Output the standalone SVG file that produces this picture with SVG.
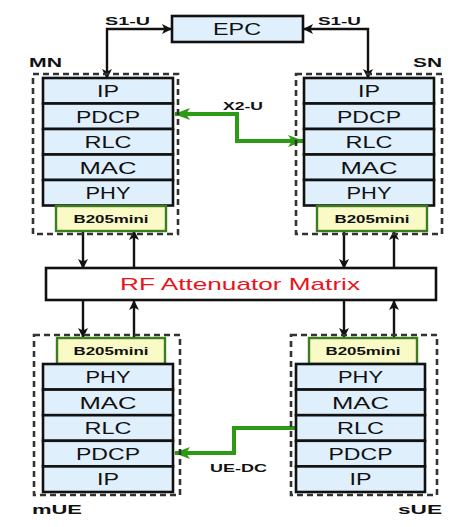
<svg xmlns="http://www.w3.org/2000/svg" width="474" height="527" viewBox="0 0 474 527">
<style>
.bg{fill:#ffffff}
.layer{fill:#dff0fc;stroke:#111;stroke-width:2.6}
.usrp{fill:#fafac6;stroke:#3b7d1f;stroke-width:2.4}
.dash{fill:none;stroke:#333;stroke-width:2.6;stroke-dasharray:6 4}
.lt{font-family:"Liberation Sans",Arial,sans-serif;font-size:17px;fill:#111;text-anchor:middle}
.ut{font-family:"Liberation Sans",Arial,sans-serif;font-size:11px;font-weight:bold;fill:#111;text-anchor:middle}
.lbl{font-family:"Liberation Sans",Arial,sans-serif;font-size:11px;font-weight:bold;fill:#111}
.nlbl{font-family:"Liberation Sans",Arial,sans-serif;font-size:13px;font-weight:bold;fill:#111}
.blk{fill:none;stroke:#111;stroke-width:2.4}
.grn{fill:none;stroke:#2c9a14;stroke-width:4}
</style>
<defs>
<marker id="ah" viewBox="0 0 10 10" refX="9" refY="5" markerWidth="10" markerHeight="10" markerUnits="userSpaceOnUse" orient="auto-start-reverse">
<path d="M0,0 L10,5 L0,10 L2.5,5 z" fill="#111"/>
</marker>
<marker id="gh" viewBox="0 0 16 12" refX="15" refY="6" markerWidth="16" markerHeight="12" markerUnits="userSpaceOnUse" orient="auto-start-reverse">
<path d="M0,0 L16,6 L0,12 L4,6 z" fill="#2c9a14"/>
</marker>
</defs>
<rect class="bg" x="0" y="0" width="474" height="527"/>

<g id="connectors">
<polyline class="blk" points="107,78 107,29 171,29" marker-start="url(#ah)" marker-end="url(#ah)"/>
<polyline class="blk" points="304,29 368,29 368,78" marker-start="url(#ah)" marker-end="url(#ah)"/>
<line class="blk" x1="83" y1="232" x2="83" y2="268" marker-end="url(#ah)"/>
<line class="blk" x1="134" y1="268" x2="134" y2="231" marker-end="url(#ah)"/>
<line class="blk" x1="344" y1="232" x2="344" y2="268" marker-end="url(#ah)"/>
<line class="blk" x1="394" y1="268" x2="394" y2="231" marker-end="url(#ah)"/>
<line class="blk" x1="83" y1="301" x2="83" y2="337" marker-end="url(#ah)"/>
<line class="blk" x1="134" y1="337" x2="134" y2="301" marker-end="url(#ah)"/>
<line class="blk" x1="344" y1="301" x2="344" y2="337" marker-end="url(#ah)"/>
<line class="blk" x1="394" y1="337" x2="394" y2="301" marker-end="url(#ah)"/>
<polyline class="grn" points="175,114 237,114 237,141 303,141" marker-start="url(#gh)" marker-end="url(#gh)"/>
<polyline class="grn" points="296,428 234,428 234,453 175,453" marker-end="url(#gh)"/>
<text class="lbl" x="105" y="25" textLength="45" lengthAdjust="spacingAndGlyphs">S1-U</text>
<text class="lbl" x="318" y="25" textLength="43" lengthAdjust="spacingAndGlyphs">S1-U</text>
<text class="lbl" x="223" y="110" textLength="40" lengthAdjust="spacingAndGlyphs">X2-U</text>
<text class="lbl" x="210" y="472" textLength="57" lengthAdjust="spacingAndGlyphs">UE-DC</text>
</g>

<g id="epc">
<rect class="layer" x="172" y="16" width="131" height="26"/>
<text class="lt" x="237" y="35" textLength="48" lengthAdjust="spacingAndGlyphs">EPC</text>
</g>

<g id="rf">
<rect x="46" y="268" width="390" height="32" fill="#fff" stroke="#111" stroke-width="2.6"/>
<text class="lt" x="240" y="290" fill="#e8141e" style="fill:#e8141e" textLength="240" lengthAdjust="spacingAndGlyphs">RF Attenuator Matrix</text>
</g>

<g id="mn">
<rect class="dash" x="33" y="74" width="145" height="160"/>
<text class="nlbl" x="29" y="67" textLength="33" lengthAdjust="spacingAndGlyphs">MN</text>
<rect class="layer" x="43" y="78" width="130" height="25.5"/>
<rect class="layer" x="43" y="103.5" width="130" height="25.5"/>
<rect class="layer" x="43" y="129" width="130" height="25.5"/>
<rect class="layer" x="43" y="154.5" width="130" height="25.5"/>
<rect class="layer" x="43" y="180" width="130" height="25.5"/>
<text class="lt" x="108" y="97" textLength="22" lengthAdjust="spacingAndGlyphs">IP</text>
<text class="lt" x="108" y="122.5" textLength="64" lengthAdjust="spacingAndGlyphs">PDCP</text>
<text class="lt" x="108" y="148" textLength="47" lengthAdjust="spacingAndGlyphs">RLC</text>
<text class="lt" x="108" y="173.5" textLength="57" lengthAdjust="spacingAndGlyphs">MAC</text>
<text class="lt" x="108" y="199" textLength="45" lengthAdjust="spacingAndGlyphs">PHY</text>
<rect class="usrp" x="56" y="206" width="110" height="25"/>
<text class="ut" x="111" y="222.5" textLength="75" lengthAdjust="spacingAndGlyphs">B205mini</text>
</g>

<g id="sn">
<rect class="dash" x="296" y="74" width="146" height="160"/>
<text class="nlbl" x="413" y="67" textLength="29" lengthAdjust="spacingAndGlyphs">SN</text>
<rect class="layer" x="304" y="78" width="130" height="25.5"/>
<rect class="layer" x="304" y="103.5" width="130" height="25.5"/>
<rect class="layer" x="304" y="129" width="130" height="25.5"/>
<rect class="layer" x="304" y="154.5" width="130" height="25.5"/>
<rect class="layer" x="304" y="180" width="130" height="25.5"/>
<text class="lt" x="369" y="97" textLength="22" lengthAdjust="spacingAndGlyphs">IP</text>
<text class="lt" x="369" y="122.5" textLength="64" lengthAdjust="spacingAndGlyphs">PDCP</text>
<text class="lt" x="369" y="148" textLength="47" lengthAdjust="spacingAndGlyphs">RLC</text>
<text class="lt" x="369" y="173.5" textLength="57" lengthAdjust="spacingAndGlyphs">MAC</text>
<text class="lt" x="369" y="199" textLength="45" lengthAdjust="spacingAndGlyphs">PHY</text>
<rect class="usrp" x="317" y="206" width="110" height="25"/>
<text class="ut" x="372" y="222.5" textLength="75" lengthAdjust="spacingAndGlyphs">B205mini</text>
</g>

<g id="mue">
<rect class="dash" x="34" y="335" width="146" height="160"/>
<text class="nlbl" x="32" y="514" textLength="50" lengthAdjust="spacingAndGlyphs">mUE</text>
<rect class="usrp" x="57" y="338" width="108" height="26"/>
<text class="ut" x="111" y="355" textLength="75" lengthAdjust="spacingAndGlyphs">B205mini</text>
<rect class="layer" x="43" y="364" width="130" height="25.6"/>
<rect class="layer" x="43" y="389.6" width="130" height="25.6"/>
<rect class="layer" x="43" y="415.2" width="130" height="25.6"/>
<rect class="layer" x="43" y="440.8" width="130" height="25.6"/>
<rect class="layer" x="43" y="466.4" width="130" height="25.6"/>
<text class="lt" x="108" y="383" textLength="45" lengthAdjust="spacingAndGlyphs">PHY</text>
<text class="lt" x="108" y="408.6" textLength="57" lengthAdjust="spacingAndGlyphs">MAC</text>
<text class="lt" x="108" y="434.2" textLength="47" lengthAdjust="spacingAndGlyphs">RLC</text>
<text class="lt" x="108" y="459.8" textLength="64" lengthAdjust="spacingAndGlyphs">PDCP</text>
<text class="lt" x="108" y="485.4" textLength="22" lengthAdjust="spacingAndGlyphs">IP</text>
</g>

<g id="sue">
<rect class="dash" x="291" y="335" width="146" height="160"/>
<text class="nlbl" x="398" y="514" textLength="44" lengthAdjust="spacingAndGlyphs">sUE</text>
<rect class="usrp" x="309" y="338" width="108" height="26"/>
<text class="ut" x="363" y="355" textLength="75" lengthAdjust="spacingAndGlyphs">B205mini</text>
<rect class="layer" x="296" y="364" width="129" height="25.6"/>
<rect class="layer" x="296" y="389.6" width="129" height="25.6"/>
<rect class="layer" x="296" y="415.2" width="129" height="25.6"/>
<rect class="layer" x="296" y="440.8" width="129" height="25.6"/>
<rect class="layer" x="296" y="466.4" width="129" height="25.6"/>
<text class="lt" x="360.5" y="383" textLength="45" lengthAdjust="spacingAndGlyphs">PHY</text>
<text class="lt" x="360.5" y="408.6" textLength="57" lengthAdjust="spacingAndGlyphs">MAC</text>
<text class="lt" x="360.5" y="434.2" textLength="47" lengthAdjust="spacingAndGlyphs">RLC</text>
<text class="lt" x="360.5" y="459.8" textLength="64" lengthAdjust="spacingAndGlyphs">PDCP</text>
<text class="lt" x="360.5" y="485.4" textLength="22" lengthAdjust="spacingAndGlyphs">IP</text>
</g>
</svg>
